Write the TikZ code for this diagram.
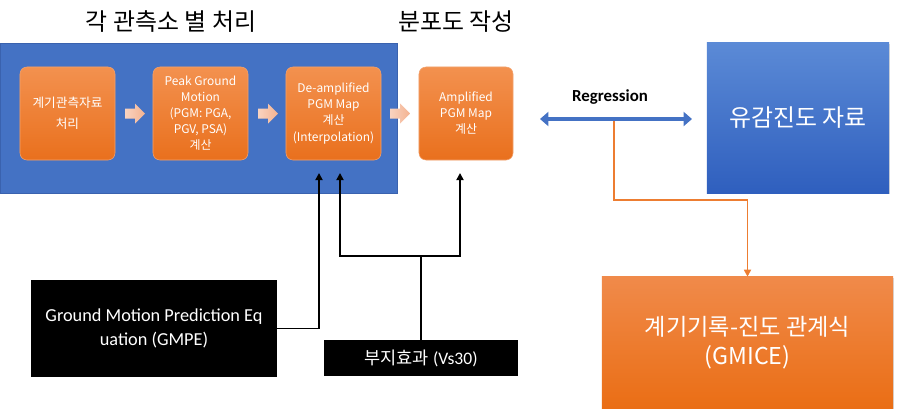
\documentclass[tikz,border=0pt]{standalone}
\usepackage{fontspec}
\setmainfont{Noto Sans CJK KR}
\newfontfamily\carlito{Carlito}
\usetikzlibrary{arrows.meta,shadows,calc}

\definecolor{panelblue}{HTML}{4472C4}
\definecolor{paneledge}{HTML}{3A62AE}
\definecolor{boxtop}{HTML}{F3914F}
\definecolor{boxbot}{HTML}{E9701D}
\definecolor{boxedge}{HTML}{F2A26E}
\definecolor{flowpink}{HTML}{F9D3C0}
\definecolor{flowsalmon}{HTML}{F4B391}
\definecolor{datatop}{HTML}{5B8AD6}
\definecolor{databot}{HTML}{2F5FBE}
\definecolor{gmicetop}{HTML}{F08A4A}
\definecolor{gmicebot}{HTML}{EA6E15}
\definecolor{linkorange}{HTML}{ED7D31}

\tikzset{
  title/.style={font=\fontsize{17}{20}\selectfont},
  stepbox/.style={rectangle, rounded corners=5pt, top color=boxtop, bottom color=boxbot,
    draw=boxedge, line width=0.4pt, minimum width=2.375cm, minimum height=2.325cm,
    text=white, align=center, inner sep=1pt, font=\fontsize{8.5}{11.4}\selectfont},
  flowarrow/.style={left color=flowpink, right color=flowsalmon, draw=none},
  inputbox/.style={rectangle, fill=black, text=white, align=center, inner sep=0pt},
  feed/.style={line width=1.2pt, -{Triangle[width=5pt,length=5pt]}},
  bigbox/.style={rectangle, text=white, align=center, inner sep=0pt,
    drop shadow={opacity=0.3, shadow xshift=0.8pt, shadow yshift=-0.8pt}}
}

% block arrow centred on a named coordinate
\newcommand{\blockarrow}[1]{%
  \path[flowarrow] ($(#1)+(-10,-5)$) -- ++(10,0) -- ++(0,-5) -- ++(10,10)
    -- ++(-10,10) -- ++(0,-5) -- ++(-10,0) -- cycle;}

\begin{document}
\begin{tikzpicture}[x=0.025cm, y=-0.025cm]
  \useasboundingbox (0,0) rectangle (900,416);

  % Titles
  \node[title] (title-local) at (171,22) {각 관측소 별 처리};
  \node[title] (title-map) at (456,22) {분포도 작성};

  % Station panel
  \node[rectangle, fill=panelblue, draw=paneledge, line width=0.5pt, inner sep=0pt,
    minimum width=9.925cm, minimum height=3.75cm] (panel) at (198.5,118) {};

  % Processing steps
  \node[stepbox, font=\fontsize{9}{15}\selectfont] (record) at (67.5,113.5) {계기관측자료\\처리};
  \node[stepbox] (pgm) at (200.5,113.5) {Peak Ground\\Motion\\(PGM: PGA,\\PGV, PSA)\\계산};
  \node[stepbox] (deamp) at (333.5,113.5) {De-amplified\\PGM Map\\계산\\(Interpolation)};
  \node[stepbox, minimum width=2.35cm] (amp) at (466,113.5) {Amplified\\PGM Map\\계산};

  % Block arrows
  \coordinate (flow-1) at ($(record.east)!0.5!(pgm.west)+(1,0)$);
  \coordinate (flow-2) at ($(pgm.east)!0.5!(deamp.west)+(1,0)$);
  \coordinate (flow-3) at ($(deamp.east)!0.5!(amp.west)$);
  \blockarrow{flow-1}
  \blockarrow{flow-2}
  \blockarrow{flow-3}

  % Intensity data and GMICE
  \node[bigbox, top color=datatop, bottom color=databot, minimum width=4.55cm, minimum height=3.75cm,
    font=\fontsize{17}{20}\selectfont] (felt) at (798,118) {유감진도 자료};
  \node[bigbox, top color=gmicetop, bottom color=gmicebot, minimum width=7.275cm, minimum height=3.275cm,
    font=\fontsize{16.5}{21}\selectfont] (gmice) at (747.5,342.5) {계기기록-진도 관계식\\(GMICE)};

  % Regression
  \coordinate (reg-l) at (540,119);
  \coordinate (reg-r) at (692,119);
  \coordinate (reg-mid) at (614,119);
  \draw[linkorange, line width=1.1pt, -{Triangle[width=5pt,length=5pt]}] (reg-mid) -- (614,200) -| (gmice.north);
  \draw[panelblue, line width=3pt, {Triangle[width=10pt,length=6pt]}-{Triangle[width=10pt,length=6pt]}] (reg-l) -- (reg-r);
  \node[font=\fontsize{12}{14}\selectfont\carlito\bfseries] (reg-label) at (610,97) {Regression};

  % Inputs
  \node[inputbox, minimum width=6.15cm, minimum height=2.425cm, font=\fontsize{13}{16.5}\selectfont\carlito]
    (gmpe) at (154,328.5) {Ground Motion Prediction Eq\\uation (GMPE)};
  \node[inputbox, minimum width=4.85cm, minimum height=0.9cm, font=\fontsize{12.5}{15}\selectfont]
    (site) at (421,358) {부지효과 {\carlito(Vs30)}};

  % Feeds into the maps
  \coordinate (in-gmpe) at (319,173);
  \coordinate (in-site) at (340,173);
  \coordinate (in-amp) at (460,173);
  \coordinate (split) at (421,256);
  \draw[feed] (gmpe.east) -| (in-gmpe);
  \draw[feed] (site.north) -- (split) -| (in-site);
  \draw[feed] (split) -| (in-amp);

\end{tikzpicture}
\end{document}
